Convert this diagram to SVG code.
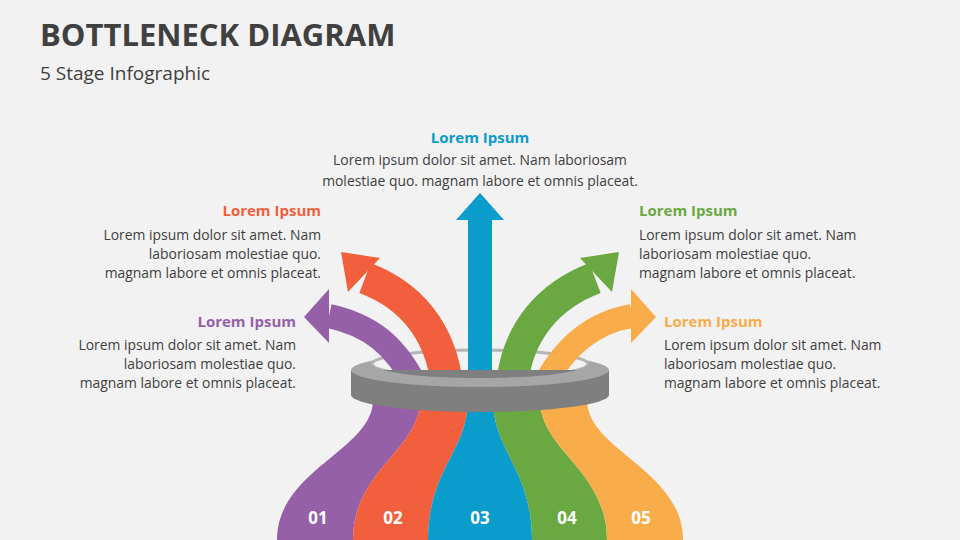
<svg xmlns="http://www.w3.org/2000/svg" width="960" height="540" viewBox="0 0 960 540">
<style>
text{font-family:"Open Sans","Liberation Sans",sans-serif;}
.t{font-weight:bold;font-size:15px}
.b{font-size:13.9px;fill:#404040}
.n{font-weight:bold;font-size:17px;fill:#fff;text-anchor:middle}
.s{fill:none;stroke-linecap:butt}
</style>
<rect width="960" height="540" fill="#f2f2f2"/>
<text x="40" y="46" font-size="31" font-weight="bold" fill="#404040">BOTTLENECK DIAGRAM</text>
<text x="40" y="80" font-size="19" fill="#404040">5 Stage Infographic</text>

<g id="stripes">
<path d="M373,400 C373,450 277,470 277,540 L353,540 C353,470 420,450 420,400 Z" fill="#9560a8"/>
<path d="M420,400 C420,450 353,470 353,540 L428,540 C428,470 468,450 468,400 Z" fill="#f15f3c"/>
<path d="M468,400 C468,450 428,470 428,540 L532,540 C532,470 493,450 493,400 Z" fill="#0a9ccb"/>
<path d="M493,400 C493,450 532,470 532,540 L607,540 C607,470 540,450 540,400 Z" fill="#6aa842"/>
<path d="M540,400 C540,450 607,470 607,540 L683,540 C683,470 587,450 587,400 Z" fill="#f9ad4a"/>
</g>
<g id="ring-back">
<ellipse cx="480" cy="370" rx="129" ry="17" fill="#a6a6a6"/>
<ellipse cx="480" cy="364" rx="108" ry="14" fill="#f2f2f2" stroke="#b5b5b5" stroke-width="3"/>
</g>
<g id="connectors">
<path class="s" d="M415,384 C395,345 370,325 329,316" stroke="#9560a8" stroke-width="24"/>
<polygon points="304,317 329,289 329,343" fill="#9560a8"/>
<path class="s" d="M447,384 C440,330 410,295 365,278" stroke="#f15f3c" stroke-width="32"/>
<polygon points="341,252 348,292 380,258" fill="#f15f3c"/>
<rect x="468" y="219" width="24" height="165" fill="#0a9ccb"/>
<polygon points="480,193 456,220 504,220" fill="#0a9ccb"/>
<path class="s" d="M512,384 C518,330 550,295 595,278" stroke="#6aa842" stroke-width="32"/>
<polygon points="619,252 612,292 580,258" fill="#6aa842"/>
<path class="s" d="M545,384 C565,345 595,322 632,316" stroke="#f9ad4a" stroke-width="24"/>
<polygon points="656,317 631,289 631,343" fill="#f9ad4a"/>
</g>
<g id="ring-front">
<path d="M351,370 L351,395 A129,17 0 0 0 609,395 L609,370 Z" fill="#7f7f7f"/>
<path d="M351,370 A129,17 0 0 0 609,370 L588,364 A108,14 0 0 1 372,364 Z" fill="#a6a6a6"/>
</g>
<g id="numbers">
<text class="n" x="318" y="524">01</text>
<text class="n" x="393" y="524">02</text>
<text class="n" x="480" y="524">03</text>
<text class="n" x="567" y="524">04</text>
<text class="n" x="641" y="524">05</text>
</g>
<g id="label3" text-anchor="middle">
<text class="t" x="480" y="143" fill="#0a9ccb">Lorem Ipsum</text>
<text class="b" x="480" y="165">Lorem ipsum dolor sit amet. Nam laboriosam</text>
<text class="b" x="480" y="186">molestiae quo. magnam labore et omnis placeat.</text>
</g>
<g id="label2" text-anchor="end">
<text class="t" x="321" y="216" fill="#f15f3c">Lorem Ipsum</text>
<text class="b" x="321" y="240">Lorem ipsum dolor sit amet. Nam</text>
<text class="b" x="321" y="259">laboriosam molestiae quo.</text>
<text class="b" x="321" y="278">magnam labore et omnis placeat.</text>
</g>
<g id="label1" text-anchor="end">
<text class="t" x="296" y="327" fill="#9560a8">Lorem Ipsum</text>
<text class="b" x="296" y="350">Lorem ipsum dolor sit amet. Nam</text>
<text class="b" x="296" y="369">laboriosam molestiae quo.</text>
<text class="b" x="296" y="388">magnam labore et omnis placeat.</text>
</g>
<g id="label4">
<text class="t" x="639" y="216" fill="#6aa842">Lorem Ipsum</text>
<text class="b" x="639" y="240">Lorem ipsum dolor sit amet. Nam</text>
<text class="b" x="639" y="259">laboriosam molestiae quo.</text>
<text class="b" x="639" y="278">magnam labore et omnis placeat.</text>
</g>
<g id="label5">
<text class="t" x="664" y="327" fill="#f9ad4a">Lorem Ipsum</text>
<text class="b" x="664" y="350">Lorem ipsum dolor sit amet. Nam</text>
<text class="b" x="664" y="369">laboriosam molestiae quo.</text>
<text class="b" x="664" y="388">magnam labore et omnis placeat.</text>
</g>
</svg>
